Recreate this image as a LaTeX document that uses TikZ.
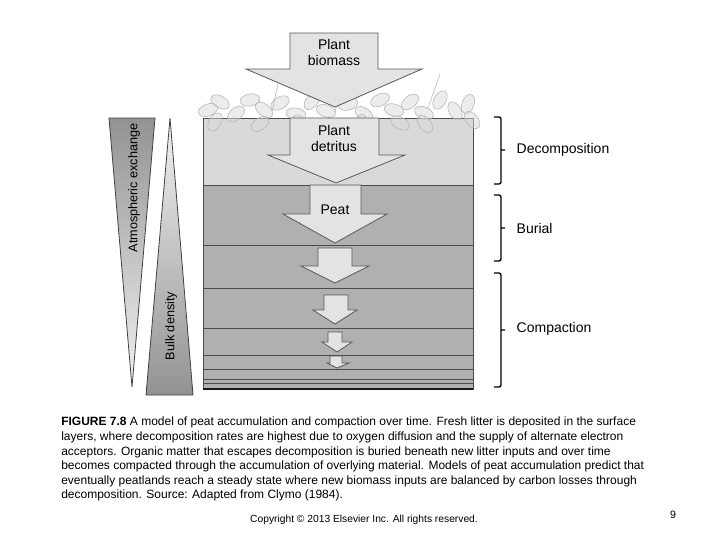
\documentclass[tikz,border=0pt]{standalone}
\usepackage{fontspec}
\setmainfont{Liberation Sans}
\usetikzlibrary{decorations.pathreplacing}
\begin{document}
\begin{tikzpicture}[x=0.75pt,y=-0.75pt,
  arr/.style={fill=gray!22,draw=gray!70!black,line width=0.6pt},
  lay/.style={draw=gray!60!black,line width=0.5pt},
  lbl/.style={font=\fontsize{10.5}{12}\selectfont,align=center},
  brk/.style={line width=1pt,rounded corners=1.5pt},
  leaf/.style={draw=gray!60,fill=gray!30,fill opacity=0.5,line width=0.4pt}]
\useasboundingbox (0,0) rectangle (720,540);
% layers
\fill[gray!30] (203,118) rectangle (473,185);
\fill[gray!62] (203,185) rectangle (473,389);
\foreach \y in {185,245,288,328,355,369,379,383}{\draw[lay] (203,\y) -- (473,\y);}
\draw[lay] (203,118) rectangle (473,389);
\draw[line width=1.2pt,gray!20!black] (203,389) -- (473,389);
% leaves
\foreach \x/\y/\a in {208/110/20,220/102/-30,236/114/40,250/100/10,264/110/-40,280/103/30,296/114/-10,312/101/50,326/111/-20,348/104/15,364/114/-35,380/100/25,394/110/-15,410/102/40,424/113/-25,440/100/60,455/111/-60,468/104/70,472/120/-50,215/122/60,300/124/-60,360/124/70,425/124/-50,260/124/35,400/123/-30}{
  \draw[leaf,rotate around={\a:(\x,\y)}] (\x,\y) ellipse (10 and 6);}
\draw[gray!50,line width=0.5pt] (272,112) -- (278,84);
\draw[gray!50,line width=0.5pt] (335,112) -- (342,84);
\draw[gray!50,line width=0.5pt] (428,108) -- (440,74);
% arrows
\draw[arr] (290,33) -- (378,33) -- (378,69) -- (422,69) -- (335,107) -- (246,69) -- (290,69) -- cycle;
\node[lbl] (pb) at (334,52) {Plant\\biomass};
\draw[arr] (290,118) -- (379,118) -- (379,155) -- (405,155) -- (336,183) -- (268,155) -- (290,155) -- cycle;
\node[lbl] (pd) at (334,138) {Plant\\detritus};
\draw[arr] (310,185) -- (361,185) -- (361,214) -- (387,214) -- (335,243) -- (283,214) -- (310,214) -- cycle;
\node[lbl] (pe) at (335,210) {Peat};
\draw[arr] (318,248) -- (352,248) -- (352,266) -- (369,266) -- (335,283) -- (301,266) -- (318,266) -- cycle;
\draw[arr] (324,295) -- (348,295) -- (348,310) -- (357,310) -- (335,324) -- (313,310) -- (324,310) -- cycle;
\draw[arr] (328,332) -- (342,332) -- (342,342) -- (352,342) -- (337,352) -- (322,342) -- (328,342) -- cycle;
\draw[arr] (330,356) -- (342,356) -- (342,363) -- (349,363) -- (337,368) -- (327,363) -- (330,363) -- cycle;
% triangles
\shade[top color=gray!85,bottom color=gray!10] (109,118) -- (155,118) -- (132,387) -- cycle;
\draw[gray!50!black,line width=0.6pt] (109,118) -- (155,118) -- (132,387) -- cycle;
\shade[top color=gray!10,bottom color=gray!85] (170,118) -- (193,395) -- (146,395) -- cycle;
\draw[gray!50!black,line width=0.6pt] (170,118) -- (193,395) -- (146,395) -- cycle;
\node[lbl,rotate=90,font=\fontsize{9.5}{11}\selectfont] (ae) at (134,188) {Atmospheric exchange};
\node[lbl,rotate=90,font=\fontsize{9.5}{11}\selectfont] (bd) at (171,326) {Bulk density};
% brackets
\draw[brk] (494,117) -- (501,117) -- (501,184) -- (494,184) (501,150) -- (505,150);
\draw[brk] (494,195) -- (501,195) -- (501,261) -- (494,261) (501,228) -- (505,228);
\draw[brk] (494,273) -- (501,273) -- (501,387) -- (494,387) (501,330) -- (505,330);
\node[lbl,anchor=west] (dc) at (512,150) {Decomposition};
\node[lbl,anchor=west] (bu) at (512,228) {Burial};
\node[lbl,anchor=west] (co) at (512,329) {Compaction};
% caption
\node[anchor=north west,align=left,inner sep=0pt,font=\fontsize{9}{10.9}\selectfont] (cap) at (61,417)
{\textbf{FIGURE 7.8} A model of peat accumulation and compaction over time. Fresh litter is deposited in the surface\\
layers, where decomposition rates are highest due to oxygen diffusion and the supply of alternate electron\\
acceptors. Organic matter that escapes decomposition is buried beneath new litter inputs and over time\\
becomes compacted through the accumulation of overlying material. Models of peat accumulation predict that\\
eventually peatlands reach a steady state where new biomass inputs are balanced by carbon losses through\\
decomposition. Source: Adapted from Clymo (1984).};
\node[font=\fontsize{7.7}{9}\selectfont] (cr) at (364,520) {Copyright © 2013 Elsevier Inc. All rights reserved.};
\node[font=\fontsize{8}{9}\selectfont] (pg) at (673,515) {9};
\end{tikzpicture}
\end{document}
